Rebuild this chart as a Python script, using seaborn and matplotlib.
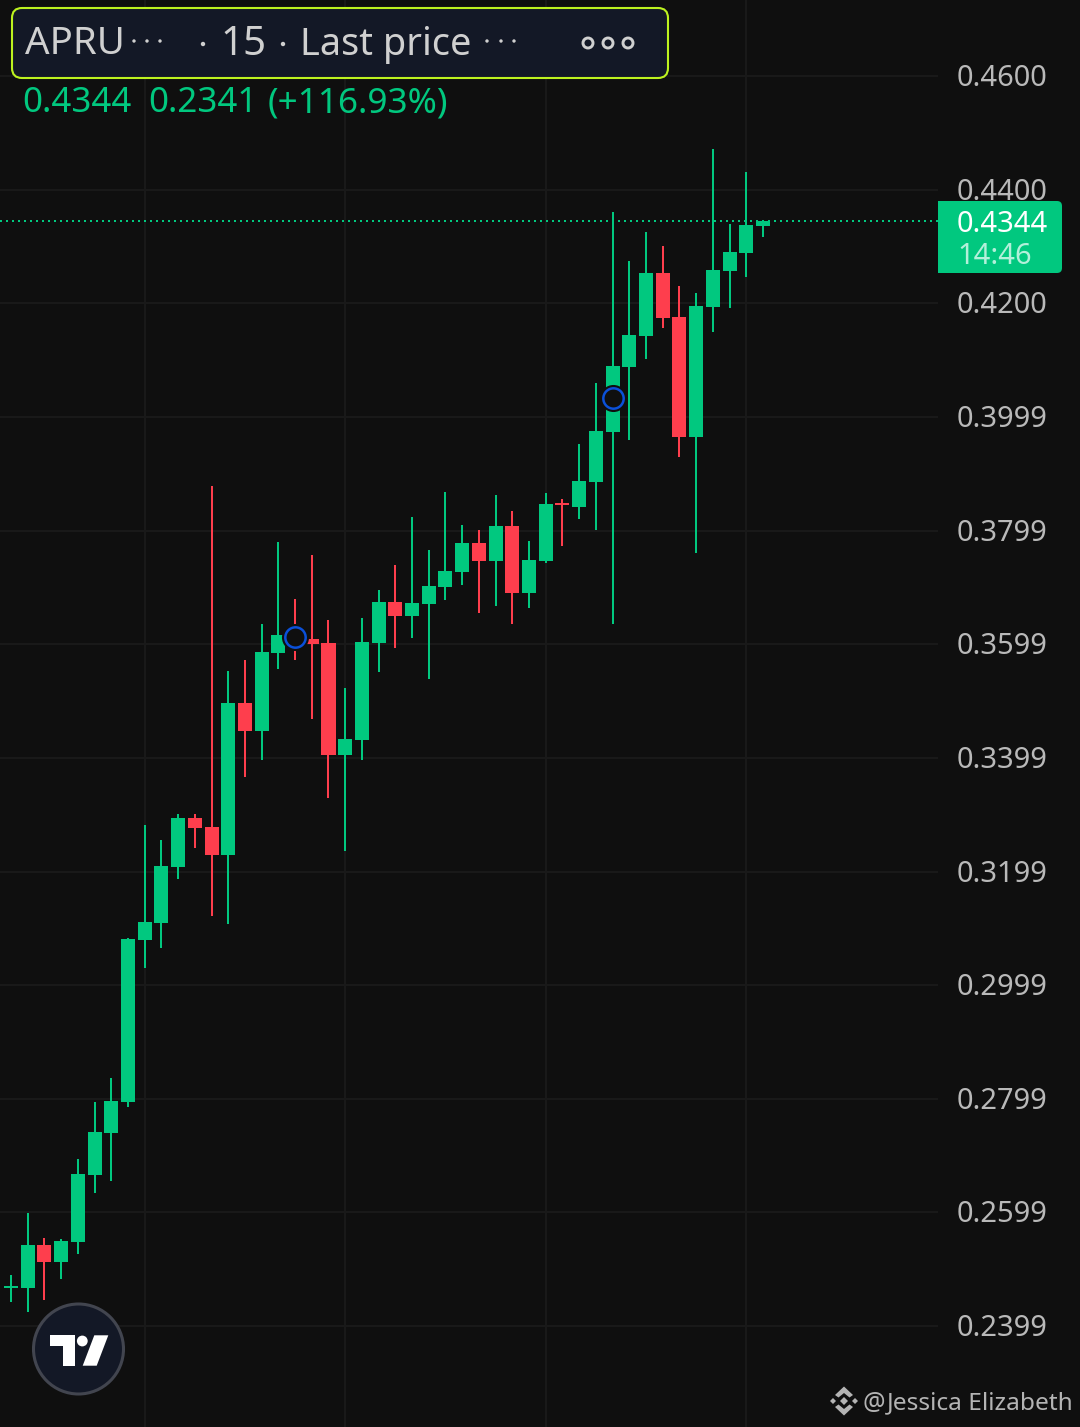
import matplotlib
matplotlib.use("Agg")
import matplotlib.pyplot as plt
from matplotlib.patches import FancyBboxPatch, Circle, Polygon, Rectangle
from matplotlib.transforms import Affine2D, ScaledTranslation
import pandas as pd
import seaborn as sns

BG = "#0f0f0f"
GRID = "#191919"
GREEN = "#01c87f"
RED = "#fe3e4d"
LABEL = "#b9b9b9"

opens = [.2466,.2466,.2542,.2512,.2547,.2665,.2738,.2793,.3079,.3108,.3207,.3293,.3278,.3228,.3496,.3447,
         .3584,.3614,.3609,.3601,.3404,.3431,.3601,.3674,.3649,.3670,.3700,.3727,.3778,.3746,.3808,.3690,
         .3746,.3848,.3841,.3885,.3973,.4088,.4142,.4253,.4176,.3964,.4193,.4257,.4288,.4336]
closes = [.2469,.2542,.2512,.2549,.2667,.2740,.2795,.3080,.3110,.3209,.3293,.3276,.3228,.3496,.3447,.3586,
          .3616,.3605,.3600,.3404,.3433,.3603,.3674,.3649,.3672,.3702,.3728,.3778,.3746,.3808,.3690,.3748,
          .3846,.3844,.3887,.3975,.4089,.4144,.4253,.4174,.3964,.4195,.4258,.4290,.4338,.4344]
highs = [.2489,.2598,.2554,.2552,.2693,.2793,.2836,.3082,.3281,.3255,.3300,.3300,.3878,.3552,.3572,.3635,
         .3779,.3679,.3757,.3642,.3522,.3646,.3695,.3739,.3823,.3765,.3867,.3809,.3801,.3862,.3834,.3781,
         .3866,.3855,.3952,.4059,.4361,.4274,.4325,.4301,.4230,.4218,.4471,.4339,.4431,.4346]
lows = [.2441,.2424,.2445,.2482,.2526,.2633,.2654,.2785,.3029,.3064,.3186,.3241,.3121,.3107,.3366,.3396,
        .3556,.3572,.3468,.3329,.3235,.3396,.3551,.3593,.3610,.3538,.3677,.3704,.3654,.3667,.3635,.3663,
        .3742,.3772,.3820,.3801,.3635,.3959,.4102,.4156,.3929,.3760,.4149,.4191,.4246,.4317]
tick_values = [.4600,.4400,.4200,.3999,.3799,.3599,.3399,.3199,.2999,.2799,.2599,.2399]
tick_labels = ["0.4600","0.4400","0.4200","0.3999","0.3799","0.3599","0.3399","0.3199","0.2999","0.2799","0.2599","0.2399"]
time_ticks = [8, 20, 32, 44]
signal_idx = [17, 36]
signal_price = [.3612, .4033]
last_price = 0.4344

sns.set_theme(style="dark", rc={"axes.facecolor": BG, "figure.facecolor": BG,
                                "axes.edgecolor": BG, "axes.grid": True})
plt.rcParams["font.family"] = ["Noto Sans", "DejaVu Sans"]

df = pd.DataFrame({"i": range(len(opens)), "open": opens, "close": closes, "high": highs, "low": lows})
df["up"] = df["close"] >= df["open"]
df["body_low"] = df[["open", "close"]].min(axis=1)
df["body_h"] = (df["close"] - df["open"]).abs()

W, H = 1080, 1427
fig = plt.figure(figsize=(W / 100, H / 100), dpi=100, facecolor=BG)
ax = fig.add_axes([0, 0, 938 / W, 1])
ax.set_facecolor(BG)
px = Affine2D().scale(1, -1).translate(0, H)  # pixel frame for the app chrome

for is_up, color in [(True, GREEN), (False, RED)]:
    sub = df[df["up"] == is_up]
    long = sub.melt(id_vars="i", value_vars=["high", "low"], value_name="price")
    sns.lineplot(data=long, x="i", y="price", units="i", estimator=None, color=color,
                 linewidth=1.44, solid_capstyle="butt", legend=False, ax=ax, zorder=3)
    sns.barplot(data=sub, x="i", y="body_h", bottom=sub["body_low"], native_scale=True, width=0.84,
                color=color, saturation=1, errorbar=None, linewidth=0, ax=ax, zorder=4)

ax.axhline(last_price, color=GREEN, linewidth=1.44, linestyle=(0, (1, 2)), zorder=2)

sig = pd.DataFrame({"i": signal_idx, "price": signal_price})
sns.scatterplot(data=sig, x="i", y="price", s=380, color=BG, linewidth=0, ax=ax, zorder=5, legend=False)
sns.scatterplot(data=sig, x="i", y="price", s=215, color=BG, edgecolor="#0b50d9", linewidth=1.8,
                ax=ax, zorder=6, legend=False)

ax.set_xlim(-11 / 16.71, (938 - 11) / 16.71)
ax.set_ylim(0.46 - 1351 * 0.00017609, 0.46 + 76 * 0.00017609)
ax.set_xticks(time_ticks)
ax.set_xticklabels([])
ax.set_yticks(tick_values)
ax.set_yticklabels(tick_labels)
ax.set_xlabel("")
ax.set_ylabel("")
ax.tick_params(axis="both", length=0)
ax.tick_params(axis="y", left=False, labelleft=False, right=False, labelright=True, pad=13.1,
               labelsize=20.95, labelcolor=LABEL)
ax.grid(True, color=GRID, linewidth=1.44)
ax.set_axisbelow(True)
for s in ax.spines.values():
    s.set_visible(False)
shift = ScaledTranslation(0, 1 / 100, fig.dpi_scale_trans)
for tick in ax.yaxis.get_major_ticks():
    tick.label2.set_transform(tick.label2.get_transform() + shift)


def add(a):
    a.set_transform(px)
    a.set_clip_on(False)
    fig.add_artist(a)
    return a


def text(x, y, s, size, color, ha="left", weight="normal"):
    fig.text(x, y, s, transform=px, fontsize=size, color=color, ha=ha, va="center_baseline",
             fontweight=weight, zorder=12)


# header pill
add(FancyBboxPatch((12, 8), 656, 70, boxstyle="round,pad=0,rounding_size=10",
                   fc="#131826", ec="#bdf21f", lw=1.5, zorder=10))
HEAD = "#d0d0d0"
text(25, 40, "APRU", 27.7, HEAD)
for x0 in (134, 147, 160, 487, 501, 514):
    add(Circle((x0, 41), 1.7, fc=HEAD, ec="none", zorder=12))
for x0 in (203, 283):
    add(Circle((x0, 44), 2.2, fc=HEAD, ec="none", zorder=12))
text(220, 40, "15", 29, HEAD)
text(300, 40, "Last price", 27.3, HEAD)
for x0 in (588, 608, 628):
    add(Circle((x0, 43), 5, fc="none", ec=HEAD, lw=2.1, zorder=12))

text(22, 99, "0.4344", 25.1, GREEN)
text(148, 99, "0.2341", 25.1, GREEN)
text(268, 99, "(+116.93%)", 25.3, GREEN)

# last price tag
add(FancyBboxPatch((938, 201), 124, 72, boxstyle="round,pad=0,rounding_size=5", fc=GREEN, ec="none", zorder=10))
add(Rectangle((938, 201), 20, 72, fc=GREEN, ec="none", zorder=10))
text(957, 221.5, "0.4344", 20.95, "#ffffff")
text(957, 253.5, "14:46", 20.95, "#b3f0da")

# logo badge
add(Circle((78.5, 1349), 45, fc="#131826", ec="#42454f", lw=2.2, zorder=10))
add(Polygon([(50, 1335.3), (74.7, 1335.3), (74.7, 1365.7), (63.3, 1365.7), (63.3, 1346), (50, 1346)],
            closed=True, fc="white", ec="none", zorder=11))
add(Circle((82.3, 1341), 5.4, fc="white", ec="none", zorder=11))
add(Polygon([(108.3, 1335.3), (96.7, 1365.7), (82.7, 1365.7), (94.3, 1335.3)],
            closed=True, fc="white", ec="none", zorder=11))

# watermark
WM = "#b4b4b4"
cx, cy = 844, 1401
for sign in (-1, 1):
    add(Polygon([(cx - 9, cy + sign * 6), (cx, cy + sign * 14.5), (cx + 9, cy + sign * 6),
                 (cx + 5.5, cy + sign * 3.5), (cx, cy + sign * 8), (cx - 5.5, cy + sign * 3.5)],
                closed=True, fc=WM, ec="none", zorder=11))
    add(Polygon([(cx + sign * 14, cy), (cx + sign * 11, cy - 3), (cx + sign * 8, cy), (cx + sign * 11, cy + 3)],
                closed=True, fc=WM, ec="none", zorder=11))
add(Polygon([(cx - 4, cy), (cx, cy - 4), (cx + 4, cy), (cx, cy + 4)], closed=True, fc=WM, ec="none", zorder=11))
text(863, 1400, "@", 18, WM)
text(887, 1400, "Jessica Elizabeth", 17.6, WM)

fig.savefig("out.png", dpi=100, facecolor=BG)
